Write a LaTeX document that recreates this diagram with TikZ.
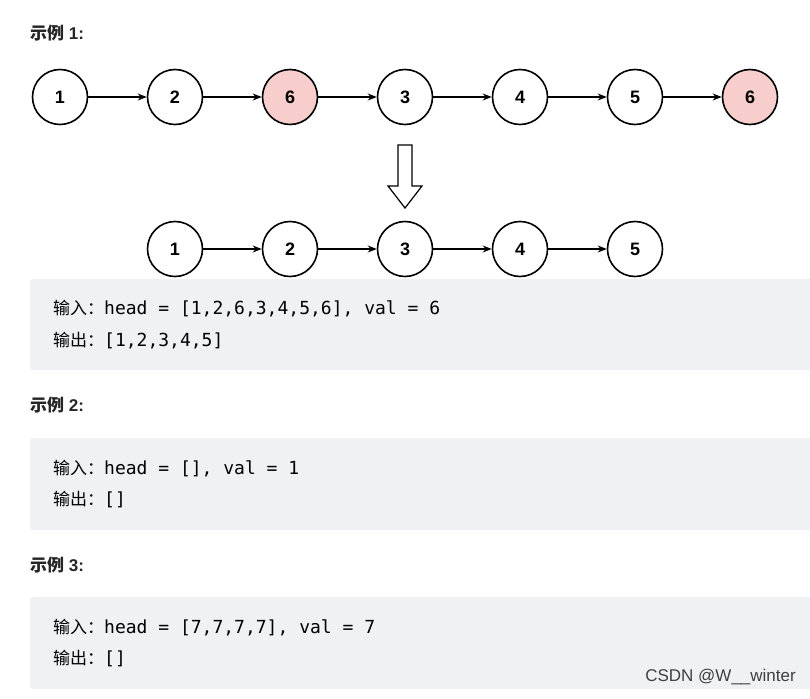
\documentclass[tikz,border=0pt]{standalone}
\usepackage{fontspec}
\setmainfont{Liberation Sans}
\newfontfamily\cjk{Noto Sans CJK SC}
\newfontfamily\monof{DejaVu Sans Mono}
\usetikzlibrary{arrows.meta}
\definecolor{pinkf}{HTML}{F8CECC}
\definecolor{boxg}{HTML}{F0F1F3}
\definecolor{txt}{HTML}{262626}
\begin{document}
\begin{tikzpicture}[x=1pt,y=-1pt,
  nd/.style={circle,draw=black,line width=1.6pt,minimum size=55pt,inner sep=0pt,font=\fontsize{18}{18}\selectfont\bfseries,fill=white},
  pk/.style={nd,fill=pinkf},
  ar/.style={-{Stealth[length=9pt,width=7pt]},line width=1.1pt},
  ttl/.style={anchor=west,font=\fontsize{17}{17}\selectfont\bfseries,text=txt,inner sep=0pt},
  code/.style={anchor=west,font=\fontsize{17}{17}\selectfont,text=black,inner sep=0pt},
  gbox/.style={fill=boxg,rounded corners=3pt,draw=none}]
\useasboundingbox[fill=white] (0,0) rectangle (810,698);
\node[ttl] (t1) at (30,33) {{\cjk\bfseries 示例} 1:};
\foreach \n/\x/\s/\l in {a1/60/nd/1,a2/175/nd/2,a3/290/pk/6,a4/405/nd/3,a5/520/nd/4,a6/635/nd/5,a7/750/pk/6}
  \node[\s] (\n) at (\x,97) {\l};
\foreach \p/\q in {a1/a2,a2/a3,a3/a4,a4/a5,a5/a6,a6/a7} \draw[ar] (\p) -- (\q);
\draw[line width=1.2pt,fill=white] (398,145) -- (412,145) -- (412,186) -- (422,186) -- (405,208) -- (388,186) -- (398,186) -- cycle;
\foreach \n/\x/\l in {b1/175/1,b2/290/2,b3/405/3,b4/520/4,b5/635/5}
  \node[nd] (\n) at (\x,249) {\l};
\foreach \p/\q in {b1/b2,b2/b3,b3/b4,b4/b5} \draw[ar] (\p) -- (\q);
\fill[gbox] (30,279) rectangle (815,370);
\node[code] (c1) at (53,309) {{\cjk 输入：}{\monof\fontsize{18}{18}\selectfont head = [1,2,6,3,4,5,6], val = 6}};
\node[code] (c2) at (53,341) {{\cjk 输出：}{\monof\fontsize{18}{18}\selectfont [1,2,3,4,5]}};
\node[ttl] (t2) at (30,405) {{\cjk\bfseries 示例} 2:};
\fill[gbox] (30,438) rectangle (815,530);
\node[code] (d1) at (53,469) {{\cjk 输入：}{\monof\fontsize{18}{18}\selectfont head = [], val = 1}};
\node[code] (d2) at (53,500) {{\cjk 输出：}{\monof\fontsize{18}{18}\selectfont []}};
\node[ttl] (t3) at (30,565) {{\cjk\bfseries 示例} 3:};
\fill[gbox] (30,597) rectangle (815,689);
\node[code] (e1) at (53,628) {{\cjk 输入：}{\monof\fontsize{18}{18}\selectfont head = [7,7,7,7], val = 7}};
\node[code] (e2) at (53,659) {{\cjk 输出：}{\monof\fontsize{18}{18}\selectfont []}};
\node[anchor=east,font=\fontsize{17}{17}\selectfont,text=black!75,inner sep=0pt] (wm) at (796,677) {CSDN @W\_\_winter};
\end{tikzpicture}
\end{document}
